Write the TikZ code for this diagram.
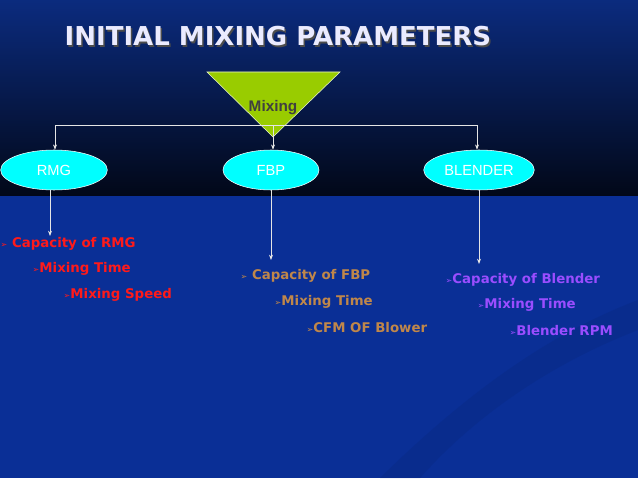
\documentclass[tikz,border=0pt]{standalone}
\usepackage{fontspec}
\setmainfont{DejaVu Sans}
\newfontfamily\arialf{Liberation Sans}
\usetikzlibrary{shapes.geometric,arrows.meta}
\definecolor{topblue}{HTML}{0B2B7E}
\definecolor{darkbot}{HTML}{020818}
\definecolor{lowblue}{HTML}{0A2F96}
\definecolor{cyanf}{HTML}{00FFFF}
\definecolor{lime}{HTML}{99CC00}
\definecolor{redt}{HTML}{FF1A1A}
\definecolor{oranget}{HTML}{C0874A}
\definecolor{purplet}{HTML}{9A4DFF}
\begin{document}
\begin{tikzpicture}[x=0.75pt,y=-0.75pt,
  oval/.style={ellipse,fill=cyanf,draw=white,line width=0.4pt,minimum height=30pt,text=white,font=\arialf\fontsize{11}{13}\selectfont},
  conn/.style={white!80!gray,line width=0.5pt,-{Stealth[length=4pt,width=3pt]}},
  item/.style={anchor=west,font=\bfseries\fontsize{10}{12}\selectfont},
  title/.style={font=\bfseries\fontsize{19.5}{23}\selectfont}]
\useasboundingbox (0,0) rectangle (638,478);
\shade[top color=topblue,bottom color=darkbot] (0,0) rectangle (638,196);
\fill[lowblue] (0,196) rectangle (638,478);
\fill[lowblue!85!black,opacity=0.4] (380,478) .. controls (480,380) and (560,330) .. (638,300) -- (638,330) .. controls (560,360) and (480,410) .. (420,478) -- cycle;
\node[title,text=black!70,anchor=west] at (61.5,38) {INITIAL MIXING PARAMETERS};
\node[title,text=white!92!blue,anchor=west] (t) at (60,36) {INITIAL MIXING PARAMETERS};
\fill[lime,draw=white!80!lime,line width=0.4pt] (207,72) -- (340,72) -- (273,137) -- cycle;
\node[text=black!75,font=\arialf\bfseries\fontsize{11.5}{13}\selectfont] (mix) at (273,108) {Mixing};
\coordinate (h) at (273,125);
\node[oval,minimum width=80pt] (rmg) at (54,170) {RMG};
\node[oval,minimum width=72pt] (fbp) at (271,170) {FBP};
\node[oval,minimum width=72pt] (bl) at (479,170) {BLENDER};
\coordinate (hl) at (55,125);
\coordinate (hr) at (477,125);
\draw[white!80!gray,line width=0.5pt] (hl) -- (hr);
\draw[conn] (hl) -- (rmg.north -| hl);
\draw[conn] (h) -- (fbp.north -| h);
\draw[conn] (hr) -- (bl.north -| hr);
\coordinate (ra) at (50,236);
\coordinate (fa) at (271,260);
\coordinate (ba) at (479,264);
\draw[conn] (rmg.south -| ra) -- (ra);
\draw[conn] (fbp.south) -- (fa);
\draw[conn] (bl.south) -- (ba);
\def\bl{{\fontsize{6}{7}\selectfont ➢}}
\node[item,text=redt] (r1) at (-4,244) {\bl\ Capacity of RMG};
\node[item,text=redt] (r2) at (28,269) {\bl Mixing Time};
\node[item,text=redt] (r3) at (59,295) {\bl Mixing Speed};
\node[item,text=oranget] (f1) at (236,276) {\bl\ Capacity of FBP};
\node[item,text=oranget] (f2) at (270,302) {\bl Mixing Time};
\node[item,text=oranget] (f3) at (302,328) {\bl CFM OF Blower};
\node[item,text=purplet] (b1) at (441,280) {\bl Capacity of Blender};
\node[item,text=purplet] (b2) at (473,305) {\bl Mixing Time};
\node[item,text=purplet] (b3) at (505,331) {\bl Blender RPM};
\end{tikzpicture}
\end{document}
